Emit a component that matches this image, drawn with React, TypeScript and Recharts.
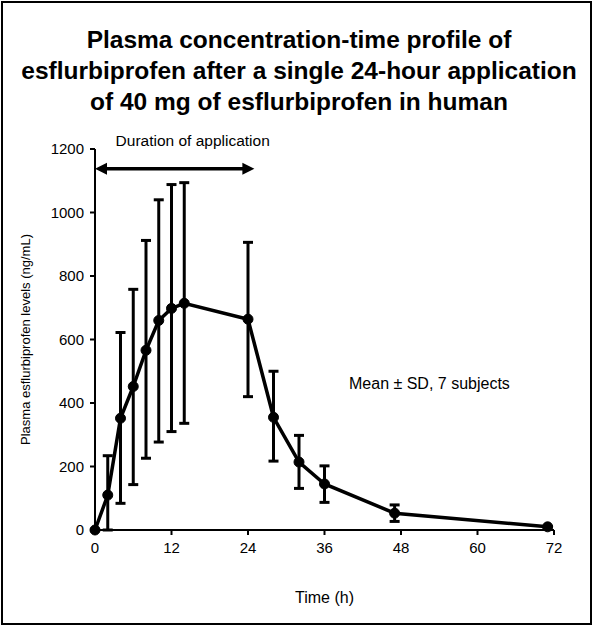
import { LineChart, Line, XAxis, YAxis, ErrorBar, ReferenceLine } from "recharts";

const titleLines = [
  "Plasma concentration-time profile of",
  "esflurbiprofen after a single 24-hour application",
  "of 40 mg of esflurbiprofen in human",
];

// sampling times (h)
const hours = [0, 2, 4, 6, 8, 10, 12, 14, 24, 28, 32, 36, 47, 71];
// mean plasma level (ng/mL)
const meanLevels = [0, 110, 352, 452, 566, 660, 698, 714, 664, 355, 214, 145, 53, 10];
// lower / upper ends of the SD bars
const lowerBars = [0, 0, 84, 143, 226, 277, 310, 336, 420, 217, 131, 87, 27, 10];
const upperBars = [0, 234, 622, 758, 912, 1040, 1088, 1094, 906, 500, 298, 202, 79, 10];

const xTicks = [0, 12, 24, 36, 48, 60, 72];
const yTicks = [0, 200, 400, 600, 800, 1000, 1200];

const applicationStart = 0;
const applicationEnd = 25;
const arrowLevel = 1138;

const data = hours.map((t, i) => ({
  t,
  mean: meanLevels[i],
  err: [meanLevels[i] - lowerBars[i], upperBars[i] - meanLevels[i]],
}));

const FONT = '"Liberation Sans", Arial, Helvetica, sans-serif';

function DoubleArrow(props: any) {
  const { x1, y1, x2 } = props;
  const head = 12;
  const half = 6;
  return (
    <g>
      <line x1={x1 + head - 2} y1={y1} x2={x2 - head + 2} y2={y1} stroke="#000" strokeWidth={3.5} />
      <polygon points={`${x1},${y1} ${x1 + head},${y1 - half} ${x1 + head},${y1 + half}`} fill="#000" />
      <polygon points={`${x2},${y1} ${x2 - head},${y1 - half} ${x2 - head},${y1 + half}`} fill="#000" />
      <text
        x={(x1 + x2) / 2 + 18}
        y={y1 - 23}
        textAnchor="middle"
        fontSize={15.5}
        fontFamily={FONT}
        fill="#000"
      >
        Duration of application
      </text>
    </g>
  );
}

export default function App() {
  return (
    <div
      style={{
        position: "absolute",
        left: 0,
        top: 0,
        width: 594,
        height: 626,
        background: "#fff",
        fontFamily: FONT,
      }}
    >
      <div
        style={{
          position: "absolute",
          left: 1,
          top: 1,
          width: 591,
          height: 624,
          border: "2px solid #000",
          boxSizing: "border-box",
        }}
      />
      <div
        style={{
          position: "absolute",
          left: 0,
          top: 24,
          width: 598,
          textAlign: "center",
          fontSize: 24.5,
          fontWeight: "bold",
          lineHeight: "31px",
          color: "#000",
        }}
      >
        {titleLines.map((l) => (
          <div key={l}>{l}</div>
        ))}
      </div>
      <div
        style={{
          position: "absolute",
          left: 349,
          top: 375,
          fontSize: 16,
          color: "#000",
          whiteSpace: "nowrap",
        }}
      >
        Mean ± SD, 7 subjects
      </div>
      <div style={{ position: "absolute", left: 0, top: 0 }}>
        <LineChart
          width={594}
          height={626}
          data={data}
          margin={{ top: 149, right: 40, bottom: 66, left: 10 }}
        >
          <XAxis
            dataKey="t"
            type="number"
            domain={[0, 72]}
            ticks={xTicks}
            interval={0}
            height={30}
            tickSize={5}
            tickMargin={7}
            axisLine={{ stroke: "#000", strokeWidth: 2 }}
            tickLine={{ stroke: "#000", strokeWidth: 2 }}
            tick={{ fill: "#000", fontSize: 15, fontFamily: FONT }}
            label={{
              value: "Time (h)",
              position: "bottom",
              offset: 32,
              fill: "#000",
              fontSize: 16,
              fontFamily: FONT,
            }}
          />
          <YAxis
            type="number"
            domain={[0, 1200]}
            ticks={yTicks}
            interval={0}
            width={85}
            tickSize={5}
            tickMargin={6}
            axisLine={{ stroke: "#000", strokeWidth: 2 }}
            tickLine={{ stroke: "#000", strokeWidth: 2 }}
            tick={{ fill: "#000", fontSize: 15, fontFamily: FONT }}
            label={{
              value: "Plasma esflurbiprofen levels (ng/mL)",
              angle: -90,
              position: "insideLeft",
              offset: 15,
              fill: "#000",
              fontSize: 13,
              fontFamily: FONT,
              style: { textAnchor: "middle" },
            }}
          />
          <ReferenceLine
            segment={[
              { x: applicationStart, y: arrowLevel },
              { x: applicationEnd, y: arrowLevel },
            ]}
            shape={DoubleArrow}
            ifOverflow="visible"
          />
          <Line
            dataKey="mean"
            stroke="#000"
            strokeWidth={3.5}
            dot={{ r: 5, fill: "#000", stroke: "#000", strokeWidth: 1 }}
            activeDot={false}
            isAnimationActive={false}
          >
            <ErrorBar
              dataKey="err"
              direction="y"
              width={5}
              stroke="#000"
              strokeWidth={3}
              isAnimationActive={false}
            />
          </Line>
        </LineChart>
      </div>
    </div>
  );
}
